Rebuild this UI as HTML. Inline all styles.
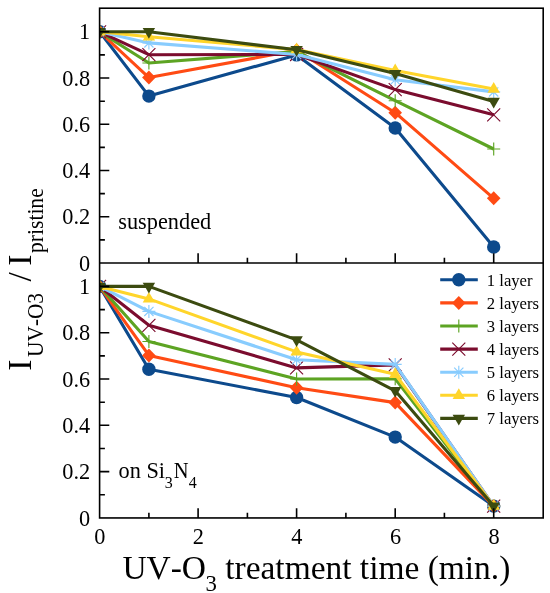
<!DOCTYPE html>
<html lang="en"><head><meta charset="utf-8"><title>UV-O3 treatment</title>
<style>
html,body{margin:0;padding:0;background:#fff;}
svg{display:block;}
text{font-family:"Liberation Serif","Times New Roman",serif;fill:#000;font-kerning:none;}
.tk{font-size:22.3px;}
.lg{font-size:16.65px;}
.an{font-size:22.3px;}
.ax{font-size:33.45px;}
</style></head><body>
<svg width="550" height="593" viewBox="0 0 550 593">
<rect width="550" height="593" fill="#fff"/>

<defs><clipPath id="ct"><rect x="99.0" y="8.2" width="444.20000000000005" height="254.8"/></clipPath><clipPath id="cb"><rect x="99.0" y="263.0" width="444.20000000000005" height="254.95000000000005"/></clipPath></defs>
<g clip-path="url(#ct)"><polyline points="99.6,31.8 148.9,96.1 296.6,54.9 395.2,128.0 493.7,247.0" fill="none" stroke="#0d4a8c" stroke-width="3.1" stroke-linejoin="round"/>
<circle cx="99.6" cy="31.8" r="6.7" fill="#0d4a8c"/>
<circle cx="148.9" cy="96.1" r="6.7" fill="#0d4a8c"/>
<circle cx="296.6" cy="54.9" r="6.7" fill="#0d4a8c"/>
<circle cx="395.2" cy="128.0" r="6.7" fill="#0d4a8c"/>
<circle cx="493.7" cy="247.0" r="6.7" fill="#0d4a8c"/>
<polyline points="99.6,31.8 148.9,77.6 296.6,50.3 395.2,112.7 493.7,198.3" fill="none" stroke="#ff4b14" stroke-width="3.1" stroke-linejoin="round"/>
<path d="M99.6 24.8L106.4 31.8L99.6 38.8L92.8 31.8Z" fill="#ff4b14"/>
<path d="M148.9 70.6L155.7 77.6L148.9 84.6L142.1 77.6Z" fill="#ff4b14"/>
<path d="M296.6 43.3L303.4 50.3L296.6 57.3L289.8 50.3Z" fill="#ff4b14"/>
<path d="M395.2 105.7L402.0 112.7L395.2 119.7L388.4 112.7Z" fill="#ff4b14"/>
<path d="M493.7 191.3L500.5 198.3L493.7 205.3L486.9 198.3Z" fill="#ff4b14"/>
<polyline points="99.6,31.8 148.9,63.0 296.6,51.5 395.2,100.7 493.7,149.0" fill="none" stroke="#5da423" stroke-width="3.1" stroke-linejoin="round"/>
<path d="M99.6 25.3V38.3M93.1 31.8H106.1" stroke="#5da423" stroke-width="1.15" fill="none"/>
<path d="M148.9 56.5V69.5M142.4 63.0H155.4" stroke="#5da423" stroke-width="1.15" fill="none"/>
<path d="M296.6 45.0V58.0M290.1 51.5H303.1" stroke="#5da423" stroke-width="1.15" fill="none"/>
<path d="M395.2 94.2V107.2M388.7 100.7H401.7" stroke="#5da423" stroke-width="1.15" fill="none"/>
<path d="M493.7 142.5V155.5M487.2 149.0H500.2" stroke="#5da423" stroke-width="1.15" fill="none"/>
<polyline points="99.6,31.8 148.9,54.7 296.6,54.5 395.2,89.6 493.7,114.8" fill="none" stroke="#7b0c2e" stroke-width="3.1" stroke-linejoin="round"/>
<path d="M93.1 25.3L106.1 38.3M93.1 38.3L106.1 25.3" stroke="#7b0c2e" stroke-width="1.15" fill="none"/>
<path d="M142.4 48.2L155.4 61.2M142.4 61.2L155.4 48.2" stroke="#7b0c2e" stroke-width="1.15" fill="none"/>
<path d="M290.1 48.0L303.1 61.0M290.1 61.0L303.1 48.0" stroke="#7b0c2e" stroke-width="1.15" fill="none"/>
<path d="M388.7 83.1L401.7 96.1M388.7 96.1L401.7 83.1" stroke="#7b0c2e" stroke-width="1.15" fill="none"/>
<path d="M487.2 108.3L500.2 121.3M487.2 121.3L500.2 108.3" stroke="#7b0c2e" stroke-width="1.15" fill="none"/>
<polyline points="99.6,31.8 148.9,42.9 296.6,54.5 395.2,79.7 493.7,91.9" fill="none" stroke="#88ccfe" stroke-width="3.1" stroke-linejoin="round"/>
<path d="M99.6 25.3V38.3M93.1 31.8H106.1M95.0 27.2L104.2 36.4M95.0 36.4L104.2 27.2" stroke="#88ccfe" stroke-width="1.15" fill="none"/>
<path d="M148.9 36.4V49.4M142.4 42.9H155.4M144.3 38.3L153.5 47.5M144.3 47.5L153.5 38.3" stroke="#88ccfe" stroke-width="1.15" fill="none"/>
<path d="M296.6 48.0V61.0M290.1 54.5H303.1M292.0 49.9L301.2 59.1M292.0 59.1L301.2 49.9" stroke="#88ccfe" stroke-width="1.15" fill="none"/>
<path d="M395.2 73.2V86.2M388.7 79.7H401.7M390.6 75.1L399.8 84.3M390.6 84.3L399.8 75.1" stroke="#88ccfe" stroke-width="1.15" fill="none"/>
<path d="M493.7 85.4V98.4M487.2 91.9H500.2M489.1 87.3L498.3 96.5M489.1 96.5L498.3 87.3" stroke="#88ccfe" stroke-width="1.15" fill="none"/>
<polyline points="99.6,31.8 148.9,36.7 296.6,49.6 395.2,70.6 493.7,89.1" fill="none" stroke="#ffd52b" stroke-width="3.1" stroke-linejoin="round"/>
<path d="M99.6 24.8L105.8 35.5L93.4 35.5Z" fill="#ffd52b"/>
<path d="M148.9 29.7L155.1 40.4L142.7 40.4Z" fill="#ffd52b"/>
<path d="M296.6 42.6L302.8 53.3L290.4 53.3Z" fill="#ffd52b"/>
<path d="M395.2 63.6L401.4 74.3L389.0 74.3Z" fill="#ffd52b"/>
<path d="M493.7 82.1L499.9 92.8L487.5 92.8Z" fill="#ffd52b"/>
<polyline points="99.6,31.8 148.9,31.8 296.6,49.8 395.2,73.6 493.7,101.4" fill="none" stroke="#3c4b10" stroke-width="3.1" stroke-linejoin="round"/>
<path d="M99.6 38.8L105.8 28.1L93.4 28.1Z" fill="#3c4b10"/>
<path d="M148.9 38.8L155.1 28.1L142.7 28.1Z" fill="#3c4b10"/>
<path d="M296.6 56.8L302.8 46.1L290.4 46.1Z" fill="#3c4b10"/>
<path d="M395.2 80.6L401.4 69.9L389.0 69.9Z" fill="#3c4b10"/>
<path d="M493.7 108.4L499.9 97.7L487.5 97.7Z" fill="#3c4b10"/></g>
<g clip-path="url(#cb)"><polyline points="99.6,286.4 148.9,369.3 296.6,397.5 395.2,437.1 493.7,506.1" fill="none" stroke="#0d4a8c" stroke-width="3.1" stroke-linejoin="round"/>
<circle cx="99.6" cy="286.4" r="6.7" fill="#0d4a8c"/>
<circle cx="148.9" cy="369.3" r="6.7" fill="#0d4a8c"/>
<circle cx="296.6" cy="397.5" r="6.7" fill="#0d4a8c"/>
<circle cx="395.2" cy="437.1" r="6.7" fill="#0d4a8c"/>
<circle cx="493.7" cy="506.1" r="6.7" fill="#0d4a8c"/>
<polyline points="99.6,286.4 148.9,355.4 296.6,387.8 395.2,402.6 493.7,506.1" fill="none" stroke="#ff4b14" stroke-width="3.1" stroke-linejoin="round"/>
<path d="M99.6 279.4L106.4 286.4L99.6 293.4L92.8 286.4Z" fill="#ff4b14"/>
<path d="M148.9 348.4L155.7 355.4L148.9 362.4L142.1 355.4Z" fill="#ff4b14"/>
<path d="M296.6 380.8L303.4 387.8L296.6 394.8L289.8 387.8Z" fill="#ff4b14"/>
<path d="M395.2 395.6L402.0 402.6L395.2 409.6L388.4 402.6Z" fill="#ff4b14"/>
<path d="M493.7 499.1L500.5 506.1L493.7 513.1L486.9 506.1Z" fill="#ff4b14"/>
<polyline points="99.6,286.4 148.9,341.5 296.6,379.0 395.2,378.8 493.7,506.1" fill="none" stroke="#5da423" stroke-width="3.1" stroke-linejoin="round"/>
<path d="M99.6 279.9V292.9M93.1 286.4H106.1" stroke="#5da423" stroke-width="1.15" fill="none"/>
<path d="M148.9 335.0V348.0M142.4 341.5H155.4" stroke="#5da423" stroke-width="1.15" fill="none"/>
<path d="M296.6 372.5V385.5M290.1 379.0H303.1" stroke="#5da423" stroke-width="1.15" fill="none"/>
<path d="M395.2 372.3V385.3M388.7 378.8H401.7" stroke="#5da423" stroke-width="1.15" fill="none"/>
<path d="M493.7 499.6V512.6M487.2 506.1H500.2" stroke="#5da423" stroke-width="1.15" fill="none"/>
<polyline points="99.6,286.4 148.9,325.3 296.6,367.9 395.2,364.9 493.7,506.1" fill="none" stroke="#7b0c2e" stroke-width="3.1" stroke-linejoin="round"/>
<path d="M93.1 279.9L106.1 292.9M93.1 292.9L106.1 279.9" stroke="#7b0c2e" stroke-width="1.15" fill="none"/>
<path d="M142.4 318.8L155.4 331.8M142.4 331.8L155.4 318.8" stroke="#7b0c2e" stroke-width="1.15" fill="none"/>
<path d="M290.1 361.4L303.1 374.4M290.1 374.4L303.1 361.4" stroke="#7b0c2e" stroke-width="1.15" fill="none"/>
<path d="M388.7 358.4L401.7 371.4M388.7 371.4L401.7 358.4" stroke="#7b0c2e" stroke-width="1.15" fill="none"/>
<path d="M487.2 499.6L500.2 512.6M487.2 512.6L500.2 499.6" stroke="#7b0c2e" stroke-width="1.15" fill="none"/>
<polyline points="99.6,286.4 148.9,311.4 296.6,359.8 395.2,364.4 493.7,506.1" fill="none" stroke="#88ccfe" stroke-width="3.1" stroke-linejoin="round"/>
<path d="M99.6 279.9V292.9M93.1 286.4H106.1M95.0 281.8L104.2 291.0M95.0 291.0L104.2 281.8" stroke="#88ccfe" stroke-width="1.15" fill="none"/>
<path d="M148.9 304.9V317.9M142.4 311.4H155.4M144.3 306.8L153.5 316.0M144.3 316.0L153.5 306.8" stroke="#88ccfe" stroke-width="1.15" fill="none"/>
<path d="M296.6 353.3V366.3M290.1 359.8H303.1M292.0 355.2L301.2 364.4M292.0 364.4L301.2 355.2" stroke="#88ccfe" stroke-width="1.15" fill="none"/>
<path d="M395.2 357.9V370.9M388.7 364.4H401.7M390.6 359.8L399.8 369.0M390.6 369.0L399.8 359.8" stroke="#88ccfe" stroke-width="1.15" fill="none"/>
<path d="M493.7 499.6V512.6M487.2 506.1H500.2M489.1 501.5L498.3 510.7M489.1 510.7L498.3 501.5" stroke="#88ccfe" stroke-width="1.15" fill="none"/>
<polyline points="99.6,286.4 148.9,298.9 296.6,351.9 395.2,374.2 493.7,506.1" fill="none" stroke="#ffd52b" stroke-width="3.1" stroke-linejoin="round"/>
<path d="M99.6 279.4L105.8 290.1L93.4 290.1Z" fill="#ffd52b"/>
<path d="M148.9 291.9L155.1 302.6L142.7 302.6Z" fill="#ffd52b"/>
<path d="M296.6 344.9L302.8 355.6L290.4 355.6Z" fill="#ffd52b"/>
<path d="M395.2 367.2L401.4 377.9L389.0 377.9Z" fill="#ffd52b"/>
<path d="M493.7 499.1L499.9 509.8L487.5 509.8Z" fill="#ffd52b"/>
<polyline points="99.6,286.4 148.9,286.4 296.6,339.9 395.2,390.8 493.7,506.1" fill="none" stroke="#3c4b10" stroke-width="3.1" stroke-linejoin="round"/>
<path d="M99.6 293.4L105.8 282.7L93.4 282.7Z" fill="#3c4b10"/>
<path d="M148.9 293.4L155.1 282.7L142.7 282.7Z" fill="#3c4b10"/>
<path d="M296.6 346.9L302.8 336.2L290.4 336.2Z" fill="#3c4b10"/>
<path d="M395.2 397.8L401.4 387.1L389.0 387.1Z" fill="#3c4b10"/>
<path d="M493.7 513.1L499.9 502.4L487.5 502.4Z" fill="#3c4b10"/></g>
<rect x="99.6" y="8.2" width="443.6" height="509.75000000000006" fill="none" stroke="#000" stroke-width="1.6"/>
<path d="M99.6 263.0H543.2" stroke="#000" stroke-width="1.6"/>
<path d="M99.6 239.9h5.3M99.6 494.8h5.3M99.6 216.8h9.7M99.6 471.6h9.7M99.6 193.6h5.3M99.6 448.5h5.3M99.6 170.5h9.7M99.6 425.3h9.7M99.6 147.4h5.3M99.6 402.2h5.3M99.6 124.3h9.7M99.6 379.0h9.7M99.6 101.2h5.3M99.6 355.9h5.3M99.6 78.0h9.7M99.6 332.7h9.7M99.6 54.9h5.3M99.6 309.6h5.3M99.6 31.8h9.7M99.6 286.4h9.7M148.9 263.0v-5.3M148.9 517.95v-5.3M198.1 263.0v-9.7M198.1 517.95v-9.7M247.4 263.0v-5.3M247.4 517.95v-5.3M296.6 263.0v-9.7M296.6 517.95v-9.7M345.9 263.0v-5.3M345.9 517.95v-5.3M395.2 263.0v-9.7M395.2 517.95v-9.7M444.4 263.0v-5.3M444.4 517.95v-5.3M493.7 263.0v-9.7M493.7 517.95v-9.7" stroke="#000" stroke-width="1.6" fill="none"/>
<text class="tk" x="90.2" y="270.5" text-anchor="end">0</text>
<text class="tk" x="90.2" y="525.5" text-anchor="end">0</text>
<text class="tk" x="90.2" y="224.3" text-anchor="end">0.2</text>
<text class="tk" x="90.2" y="479.1" text-anchor="end">0.2</text>
<text class="tk" x="90.2" y="178.0" text-anchor="end">0.4</text>
<text class="tk" x="90.2" y="432.8" text-anchor="end">0.4</text>
<text class="tk" x="90.2" y="131.8" text-anchor="end">0.6</text>
<text class="tk" x="90.2" y="386.5" text-anchor="end">0.6</text>
<text class="tk" x="90.2" y="85.5" text-anchor="end">0.8</text>
<text class="tk" x="90.2" y="340.2" text-anchor="end">0.8</text>
<text class="tk" x="90.2" y="39.3" text-anchor="end">1</text>
<text class="tk" x="90.2" y="293.9" text-anchor="end">1</text>
<text class="tk" x="99.9" y="543.5" text-anchor="middle">0</text>
<text class="tk" x="198.4" y="543.5" text-anchor="middle">2</text>
<text class="tk" x="296.9" y="543.5" text-anchor="middle">4</text>
<text class="tk" x="395.5" y="543.5" text-anchor="middle">6</text>
<text class="tk" x="494.0" y="543.5" text-anchor="middle">8</text>
<text class="an" x="118.3" y="228.8">suspended</text>
<text class="an" x="118.6" y="478.3">on Si<tspan font-size="16" dy="9.5" dx="-0.3">3</tspan><tspan dy="-9.5" dx="1" textLength="14.8" lengthAdjust="spacingAndGlyphs">N</tspan><tspan font-size="16" dy="9.5" dx="0.2">4</tspan></text>
<path d="M440.2 279.8H477.8" stroke="#0d4a8c" stroke-width="3.1"/>
<circle cx="458.8" cy="279.8" r="6.7" fill="#0d4a8c"/>
<text class="lg" x="486.8" y="285.7">1 layer</text>
<path d="M440.2 302.9H477.8" stroke="#ff4b14" stroke-width="3.1"/>
<path d="M458.8 295.9L465.6 302.9L458.8 309.9L452.0 302.9Z" fill="#ff4b14"/>
<text class="lg" x="486.8" y="308.8">2 layers</text>
<path d="M440.2 326.0H477.8" stroke="#5da423" stroke-width="3.1"/>
<path d="M458.8 319.5V332.5M452.3 326.0H465.3" stroke="#5da423" stroke-width="1.15" fill="none"/>
<text class="lg" x="486.8" y="331.9">3 layers</text>
<path d="M440.2 349.1H477.8" stroke="#7b0c2e" stroke-width="3.1"/>
<path d="M452.3 342.6L465.3 355.6M452.3 355.6L465.3 342.6" stroke="#7b0c2e" stroke-width="1.15" fill="none"/>
<text class="lg" x="486.8" y="355.0">4 layers</text>
<path d="M440.2 372.2H477.8" stroke="#88ccfe" stroke-width="3.1"/>
<path d="M458.8 365.7V378.7M452.3 372.2H465.3M454.2 367.6L463.4 376.8M454.2 376.8L463.4 367.6" stroke="#88ccfe" stroke-width="1.15" fill="none"/>
<text class="lg" x="486.8" y="378.1">5 layers</text>
<path d="M440.2 395.3H477.8" stroke="#ffd52b" stroke-width="3.1"/>
<path d="M458.8 388.3L465.0 399.0L452.6 399.0Z" fill="#ffd52b"/>
<text class="lg" x="486.8" y="401.2">6 layers</text>
<path d="M440.2 418.4H477.8" stroke="#3c4b10" stroke-width="3.1"/>
<path d="M458.8 425.4L465.0 414.7L452.6 414.7Z" fill="#3c4b10"/>
<text class="lg" x="486.8" y="424.3">7 layers</text>
<text class="ax" x="122.4" y="578.5">UV-O<tspan font-size="22.8" dy="12.3" dx="-0.5">3</tspan><tspan dy="-12.3"> treatment time (min.)</tspan></text>
<text transform="translate(30.5,370.8) rotate(-90) scale(1.0,1)" font-size="33.6">I</text>
<text transform="translate(42.9,356.9) rotate(-90) scale(0.935,1)" font-size="22.8">UV-O3</text>
<text transform="translate(30.5,281.6) rotate(-90) scale(1.0,1)" font-size="33.6">/</text>
<text transform="translate(30.5,265.7) rotate(-90) scale(1.0,1)" font-size="33.6">I</text>
<text transform="translate(42.9,252.9) rotate(-90) scale(0.945,1)" font-size="22.8">pristine</text>
</svg></body></html>
